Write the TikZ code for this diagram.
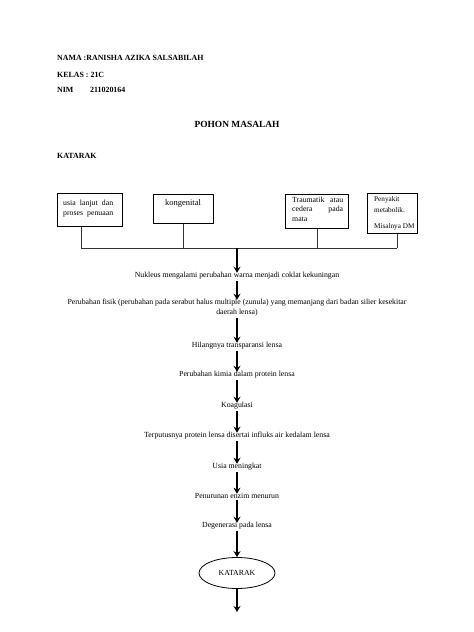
\documentclass[tikz,border=0pt]{standalone}
\usepackage{fontspec}
\setmainfont{Liberation Serif}
\usetikzlibrary{arrows.meta,shapes.geometric}
\begin{document}
\begin{tikzpicture}[x=1pt,y=-1pt,
  hdr/.style={font=\fontsize{7.9}{9}\selectfont\bfseries, inner sep=0pt, anchor=base west},
  flowtxt/.style={font=\fontsize{7.8}{10}\selectfont, inner sep=1pt, align=center},
  causebox/.style={draw, line width=0.8pt, anchor=north west, inner sep=0pt},
  boxtxt/.style={font=\fontsize{7.8}{10}\selectfont, inner sep=0pt, anchor=north west, align=left},
  conn/.style={line width=0.8pt, draw=black!80},
  flowarrow/.style={line width=1.2pt, shorten >=-1.5pt, -{Stealth[length=6pt,width=7pt,inset=2pt]}},
]
\useasboundingbox[fill=white] (0,0) rectangle (474,632);

% header
\node[hdr] (nama) at (57,60.6) {NAMA :RANISHA AZIKA SALSABILAH};
\node[hdr] (kelas) at (57,77.6) {KELAS : 21C};
\node[hdr] (nim) at (57,92.6) {NIM};
\node[hdr] (nimval) at (90,92.6) {211020164};
\node[font=\fontsize{9.4}{11}\selectfont\bfseries, inner sep=0pt, anchor=base] (judul) at (237,127) {POHON MASALAH};
\node[hdr] (sub) at (57,158.6) {KATARAK};

% cause boxes
\node[causebox, minimum width=65pt, minimum height=33pt] (b1) at (57,193) {};
\node[causebox, line width=1.3pt, minimum width=60pt, minimum height=29pt] (b2) at (153,194) {};
\node[causebox, minimum width=63pt, minimum height=34pt] (b3) at (285,194) {};
\node[causebox, minimum width=50pt, minimum height=40pt] (b4) at (367,193) {};

\node[boxtxt] (b1t) at (63,199.5) {\makebox[50pt][s]{usia lanjut dan}\\\makebox[50pt][s]{proses penuaan}};
\node[font=\fontsize{8.5}{10}\selectfont, inner sep=0pt, anchor=base] (b2t) at (183,205.5) {kongenital};
\node[boxtxt, font=\fontsize{7.8}{9.7}\selectfont] (b3t) at (292,196.4) {\makebox[51pt][s]{Traumatik atau}\\\makebox[51pt][s]{cedera pada}\\mata};
\node[boxtxt, font=\fontsize{7.2}{11}\selectfont] (b4t) at (374,196.8) {Penyakit\\metabolik.\\[5pt]Misalnya DM};

% bus
\coordinate (c1) at (81,248);
\coordinate (c2) at (183,248);
\coordinate (c3) at (317,248);
\coordinate (c4) at (397,248);
\coordinate (cm) at (237,248);
\draw[conn] (b1.south -| c1) -- (c1);
\draw[conn] (b2.south -| c2) -- (c2);
\draw[conn] (b3.south -| c3) -- (c3);
\draw[conn] (b4.south -| c4) -- (c4);
\draw[conn] (c1) -- (c4);

% flow
\node[flowtxt] (t1) at (237,276) {Nukleus mengalami perubahan warna menjadi coklat kekuningan};
\node[flowtxt] (t2) at (237,308) {Perubahan fisik (perubahan pada serabut halus multiple (zunula) yang memanjang dari badan silier kesekitar\\daerah lensa)};
\node[flowtxt] (t3) at (237,346) {Hilangnya transparansi lensa};
\node[flowtxt] (t4) at (237,375) {Perubahan kimia dalam protein lensa};
\node[flowtxt] (t5) at (237,406) {Koagulasi};
\node[flowtxt] (t6) at (237,436) {Terputusnya protein lensa disertai influks air kedalam lensa};
\node[flowtxt] (t7) at (237,467) {Usia meningkat};
\node[flowtxt] (t8) at (237,496) {Penurunan enzim menurun};
\node[flowtxt] (t9) at (237,526) {Degenerasi pada lensa};
\node[draw, ellipse, line width=0.8pt, minimum width=76pt, minimum height=31pt, inner sep=0pt, font=\fontsize{7.8}{10}\selectfont] (kat) at (237,573) {KATARAK};
\coordinate (akhir) at (237,612);

\draw[flowarrow] (cm) -- (t1.north);
\draw[flowarrow] (t1.south) -- (t2.north);
\draw[flowarrow] (t2.south) -- (t3.north);
\draw[flowarrow] (t3.south) -- (t4.north);
\draw[flowarrow] (t4.south) -- (t5.north);
\draw[flowarrow] (t5.south) -- (t6.north);
\draw[flowarrow] (t6.south) -- (t7.north);
\draw[flowarrow] (t7.south) -- (t8.north);
\draw[flowarrow] (t8.south) -- (t9.north);
\draw[flowarrow, shorten >=0pt] (t9.south) -- (kat.north);
\draw[flowarrow, shorten >=0pt] (kat.south) -- (akhir);
\end{tikzpicture}
\end{document}
